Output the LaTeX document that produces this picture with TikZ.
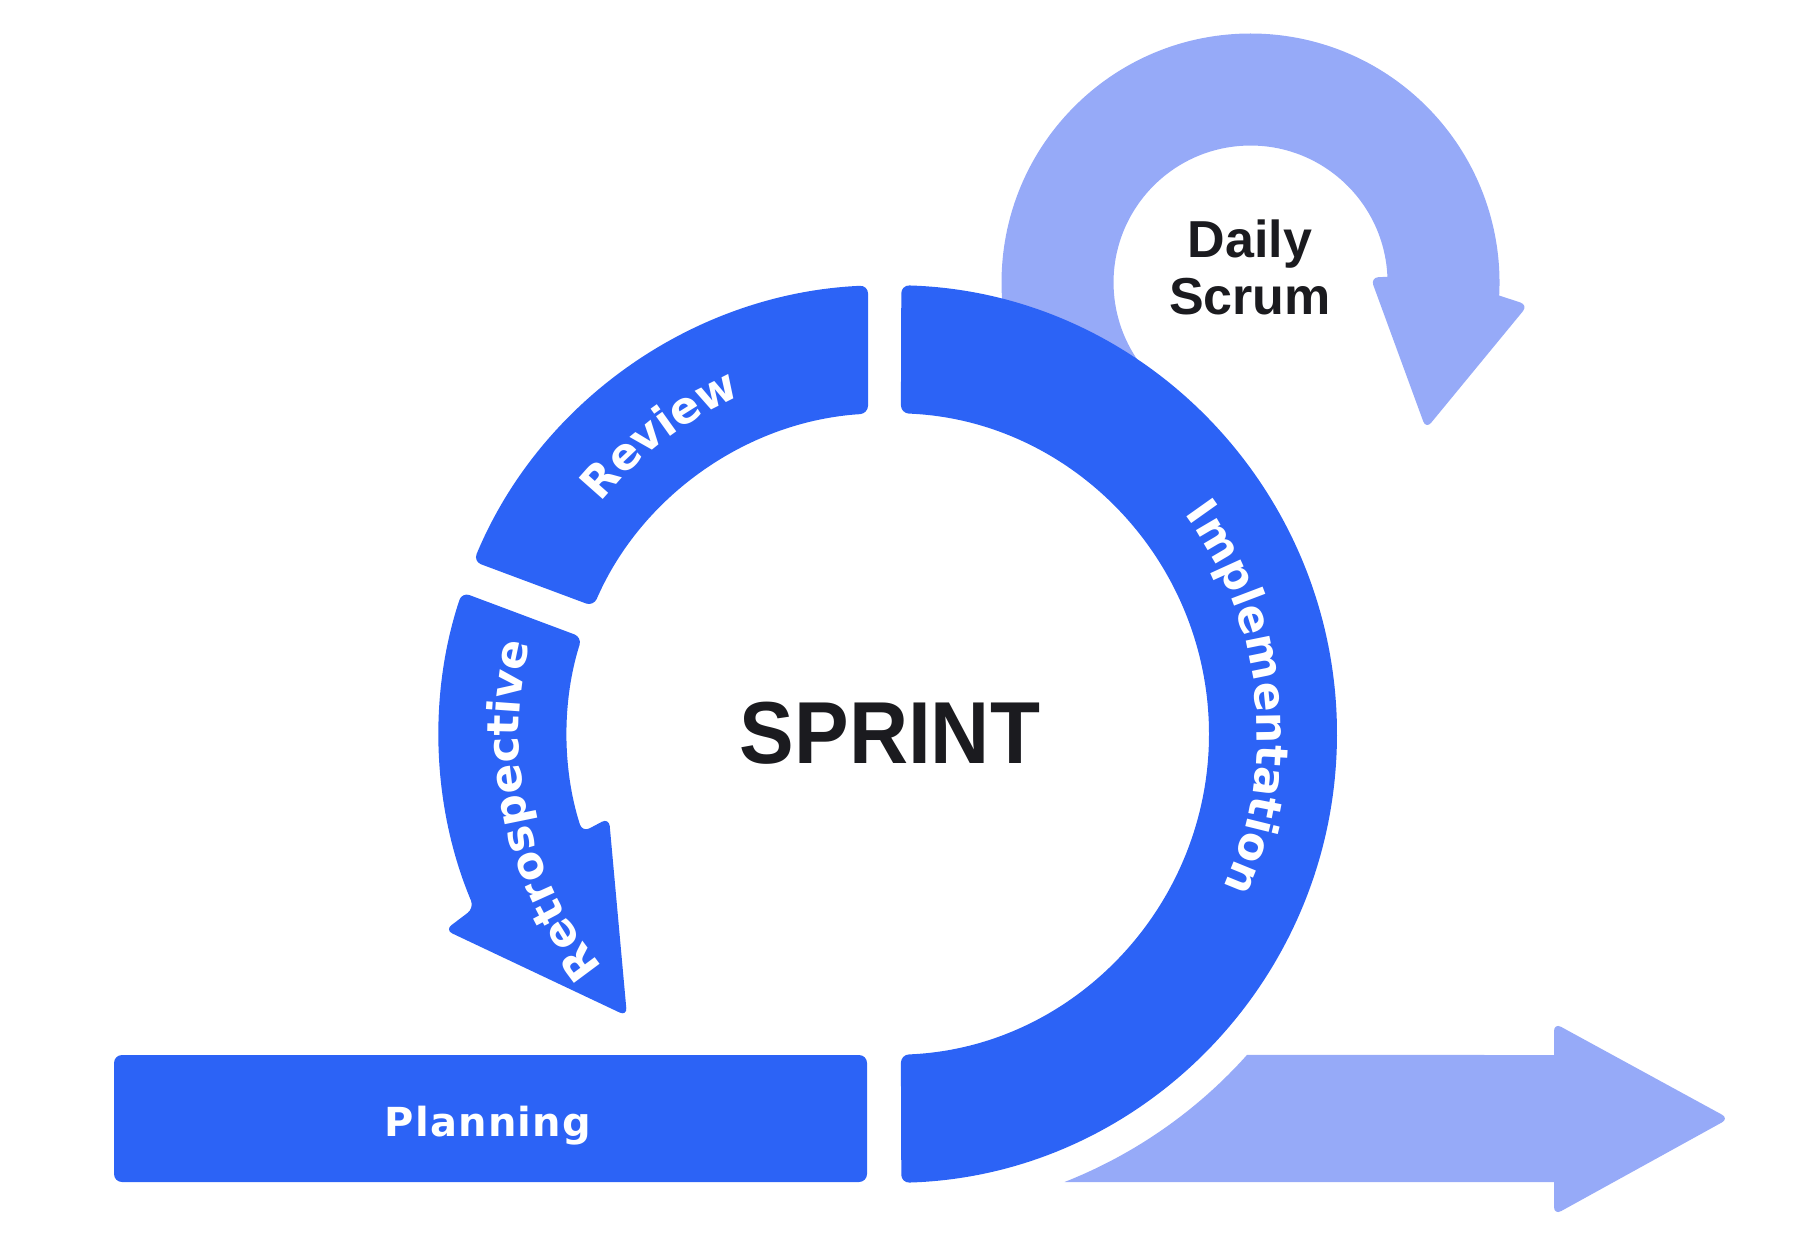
\documentclass[tikz,border=0pt]{standalone}
\usepackage{fontspec}
\usepackage{tikz}
\usetikzlibrary{decorations.text}
\setmainfont{Liberation Sans}
\newfontfamily\bandfont[LetterSpace=3]{DejaVu Sans}
\newfontfamily\arcfont[LetterSpace=4]{DejaVu Sans}
\definecolor{sprintblue}{HTML}{2C63F6}
\definecolor{lightblue}{HTML}{96AAF8}
\definecolor{inkblack}{HTML}{1B1B1F}

\begin{document}
\begin{tikzpicture}[x=0.5pt, y=0.5pt, ring/.style={fill=sprintblue, rounded corners=4pt}, flow/.style={fill=lightblue}, arclabel/.style={decorate, decoration={text along path, text align=center, text={|\color{white}\arcfont\bfseries\fontsize{22pt}{22pt}\selectfont|#1}}}]
	\useasboundingbox (0,0) rectangle (1818,1250);
	\begin{scope}[shift={(888,516)}]
		% daily scrum loop (behind the ring)
		\fill[flow] (362.5,451.5) ++(225:249) arc[start angle=225, end angle=-3, radius=249] [rounded corners=4pt] -- (640,429) -- (538,305) -- (482.5,456.5) [sharp corners] -- (499.4,457.2) arc[start angle=2.4, end angle=225, radius=137] -- cycle;
		% outgoing increment
		\fill[flow] (176.5,-448) arc[start angle=-68.5, end angle=-41.8, radius=481.5] -- (666,-321) [rounded corners=4pt] -- (666,-289) -- (841,-384.5) -- (666,-481) [sharp corners] -- (666,-448) -- cycle;
		% sprint ring
		\fill[ring] (-774,-448) rectangle (-21,-321);
		\fill[ring] (88.3:449) arc[start angle=88.3, end angle=-88.3, radius=449] -- (-87.7:321) arc[start angle=-87.7, end angle=87.7, radius=321] -- cycle;
		\fill[ring] (92.55:449) arc[start angle=92.55, end angle=157.4, radius=449] -- (156.55:321) arc[start angle=156.55, end angle=93.57, radius=321] -- cycle;
		\fill[ring] (161.6:449) arc[start angle=161.6, end angle=202.8, radius=449] -- (-443,-196) -- (-261,-282) -- (-279,-84) -- (197.8:321) arc[start angle=197.8, end angle=162.45, radius=321] -- cycle;
		% labels
		\path[arclabel=Review] (167.3:369) arc[start angle=167.3, end angle=87.3, radius=369];
		\path[arclabel=Retrospective] (232.5:369) arc[start angle=232.5, end angle=152.5, radius=369];
		\path[arclabel=Implementation] (46:369) arc[start angle=46, end angle=-34, radius=369];
		\node[anchor=base, text=white, font=\bandfont\bfseries\fontsize{20pt}{20pt}\selectfont] (planning) at (-400,-402.7) {Planning};
		\node[text=inkblack, font=\bfseries\fontsize{44pt}{44pt}\selectfont] (sprint) at (2,1) {\scalebox{0.93}[1]{SPRINT}};
		\node[text=inkblack, align=center, font=\bfseries\fontsize{26pt}{28.5pt}\selectfont] (daily) at (362,467) {Daily\\Scrum};
	\end{scope}
\end{tikzpicture}
\end{document}
